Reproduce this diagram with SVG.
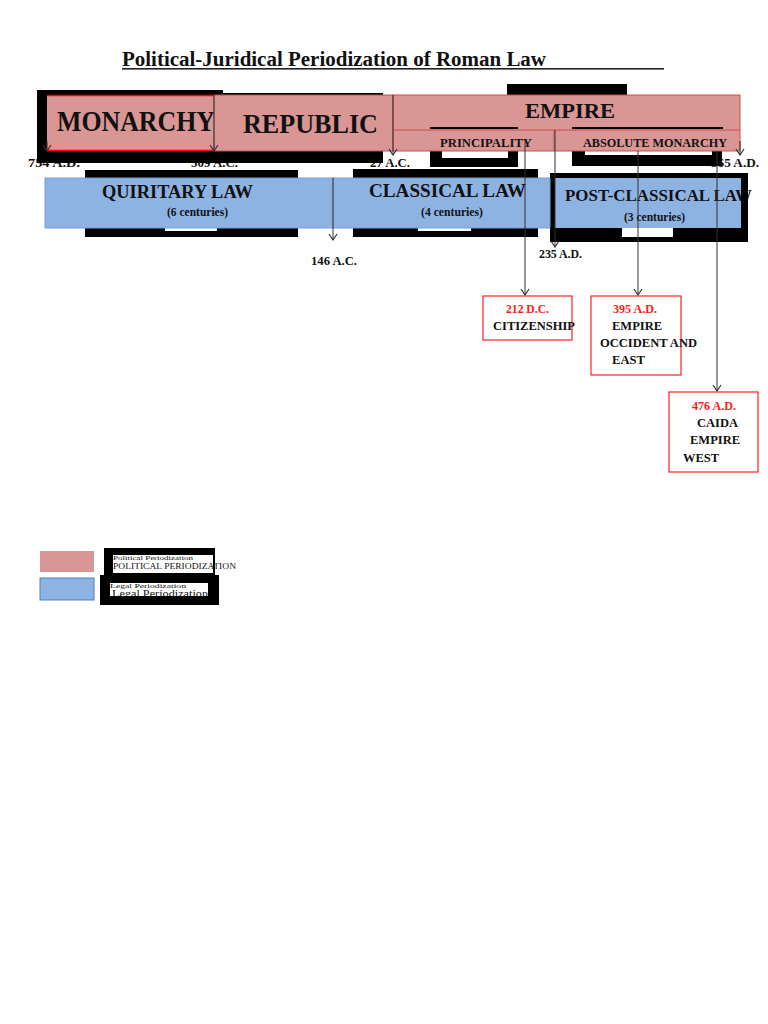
<svg xmlns="http://www.w3.org/2000/svg" width="768" height="1024" viewBox="0 0 768 1024">
<defs>
<marker id="ah" viewBox="0 0 10 10" refX="9" refY="5" markerWidth="10" markerHeight="10" markerUnits="userSpaceOnUse" orient="auto">
<path d="M3,1 L9,5 L3,9" fill="none" stroke="#333" stroke-width="1.2"/>
</marker>
</defs>
<style>
text{font-family:"Liberation Serif","Times New Roman",serif;font-weight:bold;fill:#111}
.blk{fill:#000}
.wht{fill:#fff}
.pink{fill:#d99694}
.blue{fill:#8db3e2;stroke:#7a9fd0;stroke-width:1}
.box{fill:#fff;stroke:#ff2020;stroke-width:1.2}
.red{fill:#ff1a1a}
.con line{stroke:#333;stroke-width:1;marker-end:url(#ah)}
.lg{font-weight:normal}
</style>
<rect width="768" height="1024" fill="#fff"/>

<g id="title">
<text x="122" y="66" font-size="20" textLength="424" lengthAdjust="spacingAndGlyphs">Political-Juridical Periodization of Roman Law</text>
<rect x="122" y="68" width="542" height="1.6" fill="#222"/>
</g>

<g id="dates-top">
<text x="28" y="167" font-size="12" textLength="52" lengthAdjust="spacingAndGlyphs">754 A.D.</text>
<text x="191" y="167" font-size="12" textLength="47" lengthAdjust="spacingAndGlyphs">509 A.C.</text>
<text x="370" y="167" font-size="12" textLength="40" lengthAdjust="spacingAndGlyphs">27 A.C.</text>
<text x="711" y="167" font-size="12" textLength="48" lengthAdjust="spacingAndGlyphs">565 A.D.</text>
</g>

<g id="black-top">
<rect class="blk" x="37" y="90" width="186" height="73"/>
<rect class="blk" x="214" y="93" width="169" height="70"/>
<rect class="blk" x="507" y="84" width="120" height="12"/>
<rect class="blk" x="430" y="151" width="88" height="16"/>
<rect class="wht" x="442" y="151" width="66" height="7"/>
<rect class="blk" x="572" y="151" width="150" height="15"/>
<rect class="wht" x="585" y="151" width="127" height="4"/>
</g>

<g id="monarchy">
<rect class="pink" x="47" y="95" width="167" height="56"/>
<line x1="47" y1="95.5" x2="214" y2="95.5" stroke="#ff0000" stroke-width="1.5"/>
<line x1="47" y1="150.5" x2="214" y2="150.5" stroke="#ff0000" stroke-width="1.5"/>
<text x="57" y="131" font-size="30" textLength="158" lengthAdjust="spacingAndGlyphs">MONARCHY</text>
</g>

<g id="republic">
<rect class="pink" x="214" y="95" width="179" height="56" stroke="#a85a58" stroke-width="1"/>
<text x="243" y="133" font-size="28" textLength="135" lengthAdjust="spacingAndGlyphs">REPUBLIC</text>
</g>

<g id="empire">
<rect class="pink" x="393" y="95" width="347" height="56" stroke="#c8504d" stroke-width="1"/>
<line x1="393" y1="130" x2="740" y2="130" stroke="#c8504d" stroke-width="1"/>
<line x1="554" y1="130" x2="554" y2="151" stroke="#c8504d" stroke-width="1"/>
<text x="525" y="118" font-size="22" textLength="90" lengthAdjust="spacingAndGlyphs">EMPIRE</text>
<rect class="blk" x="430" y="127" width="88" height="2"/>
<rect class="blk" x="572" y="127" width="151" height="2"/>
</g>

<g id="principality">
<text x="440" y="147" font-size="13" textLength="92" lengthAdjust="spacingAndGlyphs">PRINCIPALITY</text>
</g>

<g id="absolute-monarchy">
<text x="583" y="147" font-size="13" textLength="144" lengthAdjust="spacingAndGlyphs">ABSOLUTE MONARCHY</text>
</g>

<g id="black-law">
<rect class="blk" x="85" y="170" width="213" height="8"/>
<rect class="blk" x="85" y="228" width="213" height="9"/>
<rect class="wht" x="165" y="228" width="52" height="3"/>
<rect class="blk" x="353" y="169" width="185" height="9"/>
<rect class="blk" x="353" y="228" width="185" height="9"/>
<rect class="wht" x="418" y="228" width="53" height="3"/>
<rect class="blk" x="550" y="173" width="198" height="69"/>
</g>

<g id="quiritary-law">
<rect class="blue" x="45" y="178" width="288" height="50"/>
<text x="102" y="198" font-size="18" textLength="151" lengthAdjust="spacingAndGlyphs">QUIRITARY  LAW</text>
<text x="167" y="216" font-size="12" textLength="61" lengthAdjust="spacingAndGlyphs">(6 centuries)</text>
</g>

<g id="classical-law">
<rect class="blue" x="333" y="178" width="217" height="50"/>
<text x="369" y="197" font-size="18" textLength="157" lengthAdjust="spacingAndGlyphs">CLASSICAL  LAW</text>
<text x="421" y="216" font-size="12" textLength="62" lengthAdjust="spacingAndGlyphs">(4 centuries)</text>
</g>

<g id="post-classical-law">
<rect x="555" y="178" width="186" height="50" fill="#8db3e2"/>
<rect class="wht" x="622" y="228" width="51" height="9"/>
<text x="565" y="201" font-size="17" textLength="187" lengthAdjust="spacingAndGlyphs">POST-CLASSICAL  LAW</text>
<text x="624" y="221" font-size="12" textLength="61" lengthAdjust="spacingAndGlyphs">(3 centuries)</text>
<rect class="blk" x="741" y="173" width="7" height="69" opacity="0.85"/>
</g>

<g id="dates-low">
<text x="311" y="265" font-size="12" textLength="46" lengthAdjust="spacingAndGlyphs">146 A.C.</text>
<text x="539" y="258" font-size="12" textLength="43" lengthAdjust="spacingAndGlyphs">235 A.D.</text>
</g>

<g id="connectors" class="con">
<line x1="47" y1="141" x2="47" y2="151"/>
<line x1="214" y1="95" x2="214" y2="151"/>
<line x1="393" y1="95" x2="393" y2="155"/>
<line x1="740" y1="141" x2="740" y2="155"/>
<line x1="333" y1="178" x2="333" y2="240"/>
<line x1="555" y1="130" x2="555" y2="247"/>
<line x1="525" y1="142" x2="525" y2="295"/>
<line x1="638" y1="151" x2="638" y2="295"/>
<line x1="717" y1="151" x2="717" y2="391"/>
</g>

<g id="event-212">
<rect class="box" x="483" y="296" width="89" height="44"/>
<text class="red" x="506" y="313" font-size="12" textLength="43" lengthAdjust="spacingAndGlyphs">212 D.C.</text>
<text x="493" y="330" font-size="12" textLength="82" lengthAdjust="spacingAndGlyphs">CITIZENSHIP</text>
</g>

<g id="event-395">
<rect class="box" x="591" y="296" width="90" height="79"/>
<text class="red" x="613" y="313" font-size="12" textLength="44" lengthAdjust="spacingAndGlyphs">395 A.D.</text>
<text x="612" y="330" font-size="12" textLength="50" lengthAdjust="spacingAndGlyphs">EMPIRE</text>
<text x="600" y="347" font-size="12" textLength="97" lengthAdjust="spacingAndGlyphs">OCCIDENT AND</text>
<text x="612" y="364" font-size="12" textLength="33" lengthAdjust="spacingAndGlyphs">EAST</text>
</g>

<g id="event-476">
<rect class="box" x="669" y="392" width="89" height="80"/>
<text class="red" x="692" y="410" font-size="12" textLength="44" lengthAdjust="spacingAndGlyphs">476 A.D.</text>
<text x="697" y="427" font-size="12" textLength="41" lengthAdjust="spacingAndGlyphs">CAIDA</text>
<text x="690" y="444" font-size="12" textLength="50" lengthAdjust="spacingAndGlyphs">EMPIRE</text>
<text x="683" y="462" font-size="12" textLength="36" lengthAdjust="spacingAndGlyphs">WEST</text>
</g>

<g id="legend">
<rect x="40" y="551" width="54" height="21" fill="#d99694"/>
<rect x="40" y="578" width="54" height="22" fill="#8db3e2" stroke="#4f81bd" stroke-width="1"/>
<rect class="blk" x="104" y="548" width="111" height="27"/>
<rect class="wht" x="113" y="555" width="100" height="18"/>
<text class="lg" x="113" y="560" font-size="6" textLength="80" lengthAdjust="spacingAndGlyphs">Political Periodization</text>
<text class="lg" x="113" y="569" font-size="9" textLength="123" lengthAdjust="spacingAndGlyphs">POLITICAL PERIODIZATION</text>
<rect class="blk" x="100" y="575" width="119" height="30"/>
<rect class="wht" x="110" y="583" width="98" height="13"/>
<text class="lg" x="110" y="588" font-size="6" textLength="76" lengthAdjust="spacingAndGlyphs">Legal Periodization</text>
<text class="lg" x="112" y="597" font-size="11" textLength="96" lengthAdjust="spacingAndGlyphs">Legal Periodization</text>
</g>
</svg>
